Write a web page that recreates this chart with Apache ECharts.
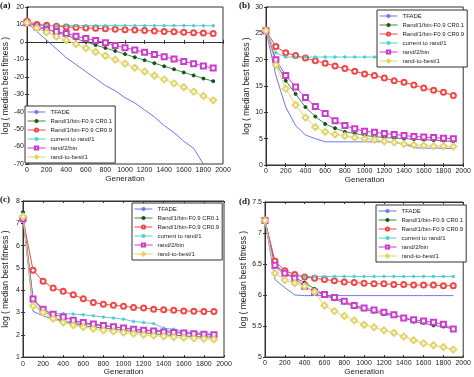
<!DOCTYPE html>
<html>
<head>
<meta charset="utf-8">
<script src="https://cdn.jsdelivr.net/npm/echarts@6/dist/echarts.min.js"></script>
<style>
  html, body { margin: 0; padding: 0; background: #fff; }
  #main { width: 474px; height: 377px; }
</style>
</head>
<body>
<div id="main"></div>
<script>
// generations (every 100)
var gens = [0, 100, 200, 300, 400, 500, 600, 700, 800, 900, 1000, 1100, 1200, 1300, 1400, 1500, 1600, 1700, 1800, 1900];
var names = ['TFADE', 'Rand/1/bin-F0.9 CR0.1', 'Rand/1/bin-F0.9 CR0.9', 'current to rand/1', 'rand/2/bin', 'rand-to-best/1'];

// panel (a)
var aTfade = [11, 6, 1, -4, -9, -13, -17, -21, -25, -28, -32, -35, -39, -43, -48, -52, -57, -61, -70];
var aCr01 = [11, 9, 7.3, 5.5, 3.7, 1.8, 0, -1.8, -3.5, -5.2, -7, -8.8, -10.5, -12.2, -14, -15.7, -17.5, -19.2, -21, -22.5];
var aCr09 = [11.8, 10, 9.5, 9, 8.6, 8.3, 8, 7.8, 7.5, 7.3, 7, 6.8, 6.5, 6.3, 6, 5.8, 5.5, 5.3, 5.1, 4.8];
var aCur = [11, 9.5, 9.3, 9.3, 9.3, 9.3, 9.3, 9.3, 9.3, 9.3, 9.3, 9.3, 9.3, 9.3, 9.3, 9.3, 9.3, 9.3, 9.3, 9.3];
var aRand2 = [11, 8.5, 7, 6, 4.8, 3.3, 2, 0.8, -0.5, -2, -3.3, -4.6, -6, -7.2, -8.5, -9.8, -11.2, -12.5, -13.8, -15];
var aBest = [11, 8, 5.5, 3, 1, -1.3, -3.5, -5.8, -8, -10.2, -12.5, -14.8, -17, -19.3, -21.5, -23.8, -26, -28.5, -31, -33.5];

// panel (b)
var bTfade = [25.5, 17, 11, 7.5, 5.7, 5, 4.4, 4.4, 4.4, 4.4, 4.4, 4.4, 4.4, 4.3, 4, 3.3, 3.2, 3.2, 3.2, 3.1];
var bCr01 = [25.5, 19.5, 16, 13.5, 11, 9.2, 7.8, 7, 6.3, 6, 5.6, 5.4, 5.2, 5.1, 5, 4.9, 4.8, 4.7, 4.6, 4.5];
var bCr09 = [25.5, 22.5, 21.3, 20.8, 20.3, 19.8, 19.3, 18.8, 18.3, 17.8, 17.3, 17, 16.5, 16, 15.7, 15.2, 14.6, 14.2, 13.8, 13.2];
var bCur = [25.5, 21.3, 20.5, 20.5, 20.5, 20.5, 20.5, 20.5, 20.5, 20.5, 20.5, 20.5, 20.5, 20.5, 20.5, 20.5, 20.5, 20.5, 20.5, 20.5];
var bRand2 = [25.5, 20, 17, 14.8, 12.8, 11.1, 9.8, 8.4, 7.5, 6.9, 6.4, 6.2, 6, 5.8, 5.6, 5.4, 5.3, 5.2, 5.1, 5];
var bBest = [25.5, 19, 14.5, 11.4, 9, 7.2, 6.3, 5.8, 5.5, 5.2, 5, 4.8, 4.5, 4.3, 4, 3.8, 3.7, 3.6, 3.6, 3.5];

// panel (c)
var cTfade = [7.3, 3.05, 2.85, 2.7, 2.6, 2.55, 2.5, 2.45, 2.4, 2.35, 2.3, 2.25, 2.2, 2.2, 2.2, 2.15, 2.1, 2.05, 2.0, 2.0];
var cCr01 = [7.5, 3.6, 3.1, 2.8, 2.6, 2.5, 2.4, 2.35, 2.3, 2.25, 2.2, 2.15, 2.1, 2.05, 2.0, 1.98, 1.95, 1.92, 1.9, 1.9];
var cCr09 = [7.2, 4.9, 4.4, 4.1, 3.95, 3.8, 3.62, 3.45, 3.37, 3.33, 3.28, 3.22, 3.2, 3.15, 3.12, 3.1, 3.07, 3.06, 3.05, 3.04];
var cCur = [7.4, 3.4, 3.05, 2.95, 2.95, 2.93, 2.9, 2.85, 2.8, 2.75, 2.7, 2.6, 2.55, 2.5, 2.3, 2.25, 2.15, 2.1, 2.1, 2.05];
var cRand2 = [7.2, 3.6, 3.15, 2.92, 2.8, 2.65, 2.55, 2.48, 2.42, 2.36, 2.3, 2.25, 2.2, 2.17, 2.13, 2.1, 2.08, 2.05, 2.02, 2.0];
var cBest = [7.3, 3.3, 3.0, 2.72, 2.55, 2.43, 2.35, 2.27, 2.2, 2.15, 2.1, 2.05, 2.0, 1.96, 1.93, 1.9, 1.87, 1.84, 1.82, 1.8];

// panel (d)
var dTfade = [7.2, 6.25, 6.12, 6.0, 5.99, 5.99, 5.99, 5.99, 5.99, 5.99, 5.99, 5.99, 5.99, 5.99, 5.99, 5.99, 5.99, 5.99, 5.99, 5.99];
var dCr01 = [7.2, 6.5, 6.35, 6.28, 6.2, 6.1, 6.0, 5.93, 5.88, 5.81, 5.77, 5.73, 5.69, 5.67, 5.64, 5.57, 5.55, 5.51, 5.49, 5.45];
var dCr09 = [7.2, 6.55, 6.39, 6.33, 6.29, 6.27, 6.25, 6.23, 6.21, 6.2, 6.19, 6.18, 6.18, 6.17, 6.17, 6.16, 6.16, 6.16, 6.15, 6.15];
var dCur = [7.2, 6.45, 6.33, 6.31, 6.3, 6.3, 6.3, 6.3, 6.3, 6.3, 6.3, 6.3, 6.3, 6.3, 6.3, 6.3, 6.3, 6.3, 6.3, 6.3];
var dRand2 = [7.2, 6.48, 6.35, 6.27, 6.14, 6.05, 6.01, 5.96, 5.9, 5.83, 5.79, 5.76, 5.72, 5.68, 5.63, 5.6, 5.58, 5.56, 5.53, 5.45];
var dBest = [7.2, 6.35, 6.24, 6.19, 6.14, 6.05, 5.83, 5.74, 5.66, 5.59, 5.52, 5.48, 5.43, 5.39, 5.33, 5.27, 5.22, 5.19, 5.16, 5.12];

var yRanges = [[-70, 20, 10], [0, 30, 5], [1, 8, 1], [5, 7.5, 0.5]];

var panels = [
  [aTfade, aCr01, aCr09, aCur, aRand2, aBest],
  [bTfade, bCr01, bCr09, bCur, bRand2, bBest],
  [cTfade, cCr01, cCr09, cCur, cRand2, cBest],
  [dTfade, dCr01, dCr09, dCur, dRand2, dBest]
];

var colors = ['#7373f0', '#2f9a3c', '#f04848', '#4fd0d0', '#cc3ccc', '#e2d46a'];
var styles = [
  { symbol: 'none', size: 0, mcolor: colors[0] },
  { symbol: 'circle', size: 3, mcolor: '#1d4d1d' },
  { symbol: 'emptyCircle', size: 5, mcolor: colors[2] },
  { symbol: 'circle', size: 2.5, mcolor: colors[3] },
  { symbol: 'emptyRect', size: 5, mcolor: colors[4] },
  { symbol: 'emptyDiamond', size: 6, mcolor: colors[5] }
];

var grids = [
  { left: 21, top: 7, width: 202, height: 157 },
  { left: 266, top: 7, width: 201, height: 158 },
  { left: 21, top: 201, width: 203, height: 157 },
  { left: 265, top: 202, width: 202, height: 155 }
];

var legendPos = [
  { left: 25, top: 106 },
  { left: 377, top: 10 },
  { left: 132, top: 203 },
  { left: 376, top: 205 }
];

var labelFont = { fontFamily: 'Liberation Sans', fontSize: 7, color: '#222' };
var nameFont = { fontFamily: 'Liberation Sans', fontSize: 8, color: '#222' };
var plain = function (v) { return String(v); };

var xAxes = [], yAxes = [];
grids.forEach(function (g, i) {
  xAxes.push({
    type: 'value', gridIndex: i, min: 0, max: 2000, interval: 200,
    name: 'Generation', nameLocation: 'middle', nameGap: 10, nameTextStyle: nameFont,
    axisLine: { lineStyle: { color: '#333' } },
    axisTick: { inside: true, length: 2, lineStyle: { color: '#333' } },
    axisLabel: Object.assign({ margin: 3, formatter: plain }, labelFont),
    splitLine: { show: false }
  });
  yAxes.push({
    type: 'value', gridIndex: i, min: yRanges[i][0], max: yRanges[i][1], interval: yRanges[i][2],
    name: 'log ( median best fitness )', nameLocation: 'middle', nameRotate: 90, nameGap: 13,
    nameTextStyle: Object.assign({}, nameFont, { fontSize: 8.5 }),
    axisLine: { lineStyle: { color: '#333' } },
    axisTick: { inside: true, length: 2, lineStyle: { color: '#333' } },
    axisLabel: Object.assign({ margin: 3, formatter: plain }, labelFont),
    splitLine: { show: false }
  });
});
// mirror axes on top/right for the boxed frame ticks
grids.forEach(function (g, i) {
  xAxes.push({
    type: 'value', gridIndex: i, position: 'top', min: 0, max: 2000, interval: 200,
    axisLine: { lineStyle: { color: '#333' } },
    axisTick: { inside: true, length: 2, lineStyle: { color: '#333' } },
    axisLabel: { show: false }, splitLine: { show: false }
  });
  yAxes.push({
    type: 'value', gridIndex: i, position: 'right', min: yRanges[i][0], max: yRanges[i][1], interval: yRanges[i][2],
    axisLine: { lineStyle: { color: '#333' } },
    axisTick: { inside: true, length: 2, lineStyle: { color: '#333' } },
    axisLabel: { show: false }, splitLine: { show: false }
  });
});

var option = {
  animation: false,
  backgroundColor: '#fff',
  grid: grids.map(function (g) {
    return Object.assign({ show: true, borderColor: '#333', borderWidth: 1, backgroundColor: 'transparent' }, g);
  }),
  xAxis: xAxes,
  yAxis: yAxes,
  legend: legendPos.map(function (p) {
    return {
      left: p.left, top: p.top, orient: 'vertical', data: names, z: 20,
      backgroundColor: '#fff', borderColor: '#333', borderWidth: 1, borderRadius: 0,
      padding: [3, 3, 3, 2], itemGap: 3, itemWidth: 18, itemHeight: 4,
      itemStyle: { borderWidth: 1 },
      lineStyle: { width: 1 },
      textStyle: { fontFamily: 'Liberation Sans', fontSize: 6, color: '#222' },
      selectedMode: false
    };
  }),
  graphic: [
    { type: 'text', left: 0, top: 1, style: { text: '(a)', font: 'bold 9px "Liberation Serif"', fill: '#111' } },
    { type: 'text', left: 239, top: 1, style: { text: '(b)', font: 'bold 9px "Liberation Serif"', fill: '#111' } },
    { type: 'text', left: 0, top: 195, style: { text: '(c)', font: 'bold 9px "Liberation Serif"', fill: '#111' } },
    { type: 'text', left: 239, top: 197, style: { text: '(d)', font: 'bold 9px "Liberation Serif"', fill: '#111' } }
  ],
  series: []
};

panels.forEach(function (set, pi) {
  set.forEach(function (vals, si) {
    var st = styles[si];
    option.series.push({
      type: 'line', name: names[si], xAxisIndex: pi, yAxisIndex: pi,
      data: vals.map(function (v, k) { return [gens[k], v]; }),
      symbol: st.symbol, symbolSize: st.size, showSymbol: st.symbol !== 'none',
      lineStyle: { color: colors[si], width: 1 },
      itemStyle: { color: st.mcolor, borderColor: st.mcolor, borderWidth: 1 },
      z: 2
    });
  });
});

var chart = echarts.init(document.getElementById('main'), null, { renderer: 'canvas' });
chart.setOption(option);
</script>
</body>
</html>
